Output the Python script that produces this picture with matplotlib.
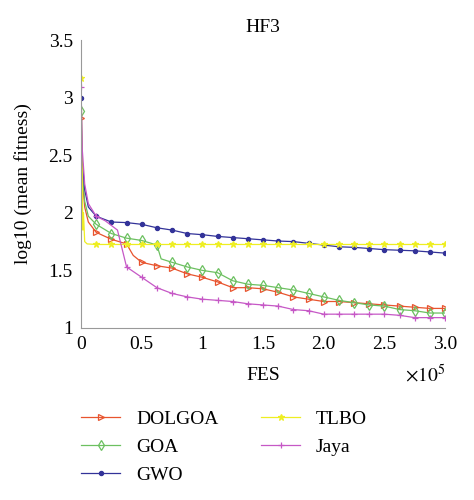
import matplotlib
matplotlib.use('Agg')
import matplotlib.pyplot as plt

plt.rcParams['font.family'] = ['Liberation Serif', 'DejaVu Serif']
plt.rcParams['mathtext.fontset'] = 'stix'

# data, FES in units of 1e5, values are log10(mean fitness)
dolgoa_x = [0, 0.01, 0.03, 0.06, 0.125, 0.25, 0.375, 0.43, 0.5, 0.625, 0.75, 0.875, 1.0, 1.125,
            1.25, 1.375, 1.5, 1.625, 1.75, 1.875, 2.0, 2.125, 2.25, 2.375, 2.5, 2.625, 2.75, 2.875, 3.0]
dolgoa_y = [2.82, 2.3, 2.05, 1.92, 1.83, 1.77, 1.73, 1.63, 1.57, 1.54, 1.52, 1.47, 1.44, 1.40,
            1.35, 1.35, 1.34, 1.31, 1.27, 1.25, 1.23, 1.23, 1.22, 1.21, 1.20, 1.19, 1.18, 1.17, 1.17]

goa_x = [0, 0.01, 0.03, 0.06, 0.125, 0.25, 0.375, 0.5, 0.625, 0.66, 0.75, 0.875, 1.0, 1.125,
         1.25, 1.375, 1.5, 1.625, 1.75, 1.875, 2.0, 2.125, 2.25, 2.375, 2.5, 2.625, 2.75, 2.875, 3.0]
goa_y = [2.88, 2.35, 2.1, 1.97, 1.90, 1.82, 1.78, 1.76, 1.72, 1.60, 1.57, 1.53, 1.50, 1.48,
         1.41, 1.38, 1.37, 1.35, 1.33, 1.30, 1.27, 1.24, 1.22, 1.20, 1.19, 1.16, 1.15, 1.13, 1.13]

gwo_x = [0, 0.01, 0.03, 0.06, 0.125, 0.25, 0.375, 0.5, 0.625, 0.75, 0.875, 1.0, 1.125,
         1.25, 1.375, 1.5, 1.625, 1.75, 1.875, 2.0, 2.125, 2.25, 2.375, 2.5, 2.625, 2.75, 2.875, 3.0]
gwo_y = [3.0, 2.45, 2.2, 2.05, 1.97, 1.92, 1.915, 1.90, 1.87, 1.85, 1.82, 1.81, 1.795,
         1.785, 1.775, 1.765, 1.755, 1.75, 1.735, 1.72, 1.705, 1.70, 1.69, 1.68, 1.675, 1.67, 1.66, 1.65]

tlbo_x = [0, 0.015, 0.02, 0.03, 0.05, 0.125, 0.25, 0.375, 0.5, 0.625, 0.75, 0.875, 1.0, 1.125,
          1.25, 1.375, 1.5, 1.625, 1.75, 1.875, 2.0, 2.125, 2.25, 2.375, 2.5, 2.625, 2.75, 2.875, 3.0]
tlbo_y = [3.17, 1.85, 2.0, 1.75, 1.73, 1.725, 1.725, 1.725, 1.725, 1.725, 1.725, 1.725, 1.725, 1.725,
          1.725, 1.725, 1.725, 1.725, 1.725, 1.725, 1.725, 1.725, 1.725, 1.725, 1.725, 1.725, 1.725, 1.725, 1.725]

jaya_x = [0, 0.01, 0.03, 0.06, 0.125, 0.2, 0.3, 0.34, 0.375, 0.5, 0.625, 0.75, 0.875, 1.0, 1.125,
          1.25, 1.375, 1.5, 1.625, 1.75, 1.875, 2.0, 2.125, 2.25, 2.375, 2.5, 2.625, 2.75, 2.875, 3.0]
jaya_y = [3.09, 2.55, 2.25, 2.08, 1.97, 1.93, 1.85, 1.68, 1.53, 1.44, 1.35, 1.30, 1.27, 1.25, 1.24,
          1.23, 1.21, 1.20, 1.19, 1.16, 1.15, 1.12, 1.12, 1.12, 1.12, 1.12, 1.11, 1.09, 1.09, 1.09]

series = [
    ('DOLGOA', dolgoa_x, dolgoa_y, '#e8542e', '>', 'none'),
    ('GOA', goa_x, goa_y, '#6cc060', 'd', 'none'),
    ('GWO', gwo_x, gwo_y, '#333399', 'o', None),
    ('TLBO', tlbo_x, tlbo_y, '#eeee22', '*', None),
    ('Jaya', jaya_x, jaya_y, '#c658c6', '+', None),
]

fig = plt.figure(figsize=(4.74, 5.0), dpi=100)
ax = fig.add_axes([0.171, 0.344, 0.768, 0.576])

for name, xs, ys, c, m, fc in series:
    # markers only on the 0.125 grid points
    every = [i for i, v in enumerate(xs) if abs(v / 0.125 - round(v / 0.125)) < 1e-9]
    ms = 5 if m != 'o' else 3
    kw = dict(markerfacecolor=fc) if fc else {}
    ax.plot(xs, ys, color=c, lw=0.9, marker=m, markersize=ms, markevery=every,
            markeredgewidth=0.9, label=name, **kw)

ax.set_xlim(0, 3.0)
ax.set_ylim(1, 3.5)
ax.set_xticks([0, 0.5, 1, 1.5, 2, 2.5, 3])
ax.set_xticklabels(['0', '0.5', '1', '1.5', '2.0', '2.5', '3.0'])
ax.set_yticks([1, 1.5, 2, 2.5, 3, 3.5])
ax.set_yticklabels(['1', '1.5', '2', '2.5', '3', '3.5'])
ax.tick_params(length=0, labelsize=14, pad=6)
for s in ['top', 'right']:
    ax.spines[s].set_visible(False)
for s in ['left', 'bottom']:
    ax.spines[s].set_color('#999999')
    ax.spines[s].set_linewidth(0.8)

ax.set_title('HF3', fontsize=14, pad=6)
ax.set_ylabel('log10 (mean fitness)', fontsize=14, labelpad=12)
ax.set_xlabel('FES', fontsize=14, labelpad=10)
fig.text(0.94, 0.25, r'$\times10^5$', fontsize=14, ha='right', va='center')

fig.legend(loc='upper left', bbox_to_anchor=(0.135, 0.215), ncol=2, frameon=False,
           fontsize=14, handlelength=2.0, handletextpad=0.8, columnspacing=2.2,
           labelspacing=0.55)

fig.savefig('out.png', dpi=100)
